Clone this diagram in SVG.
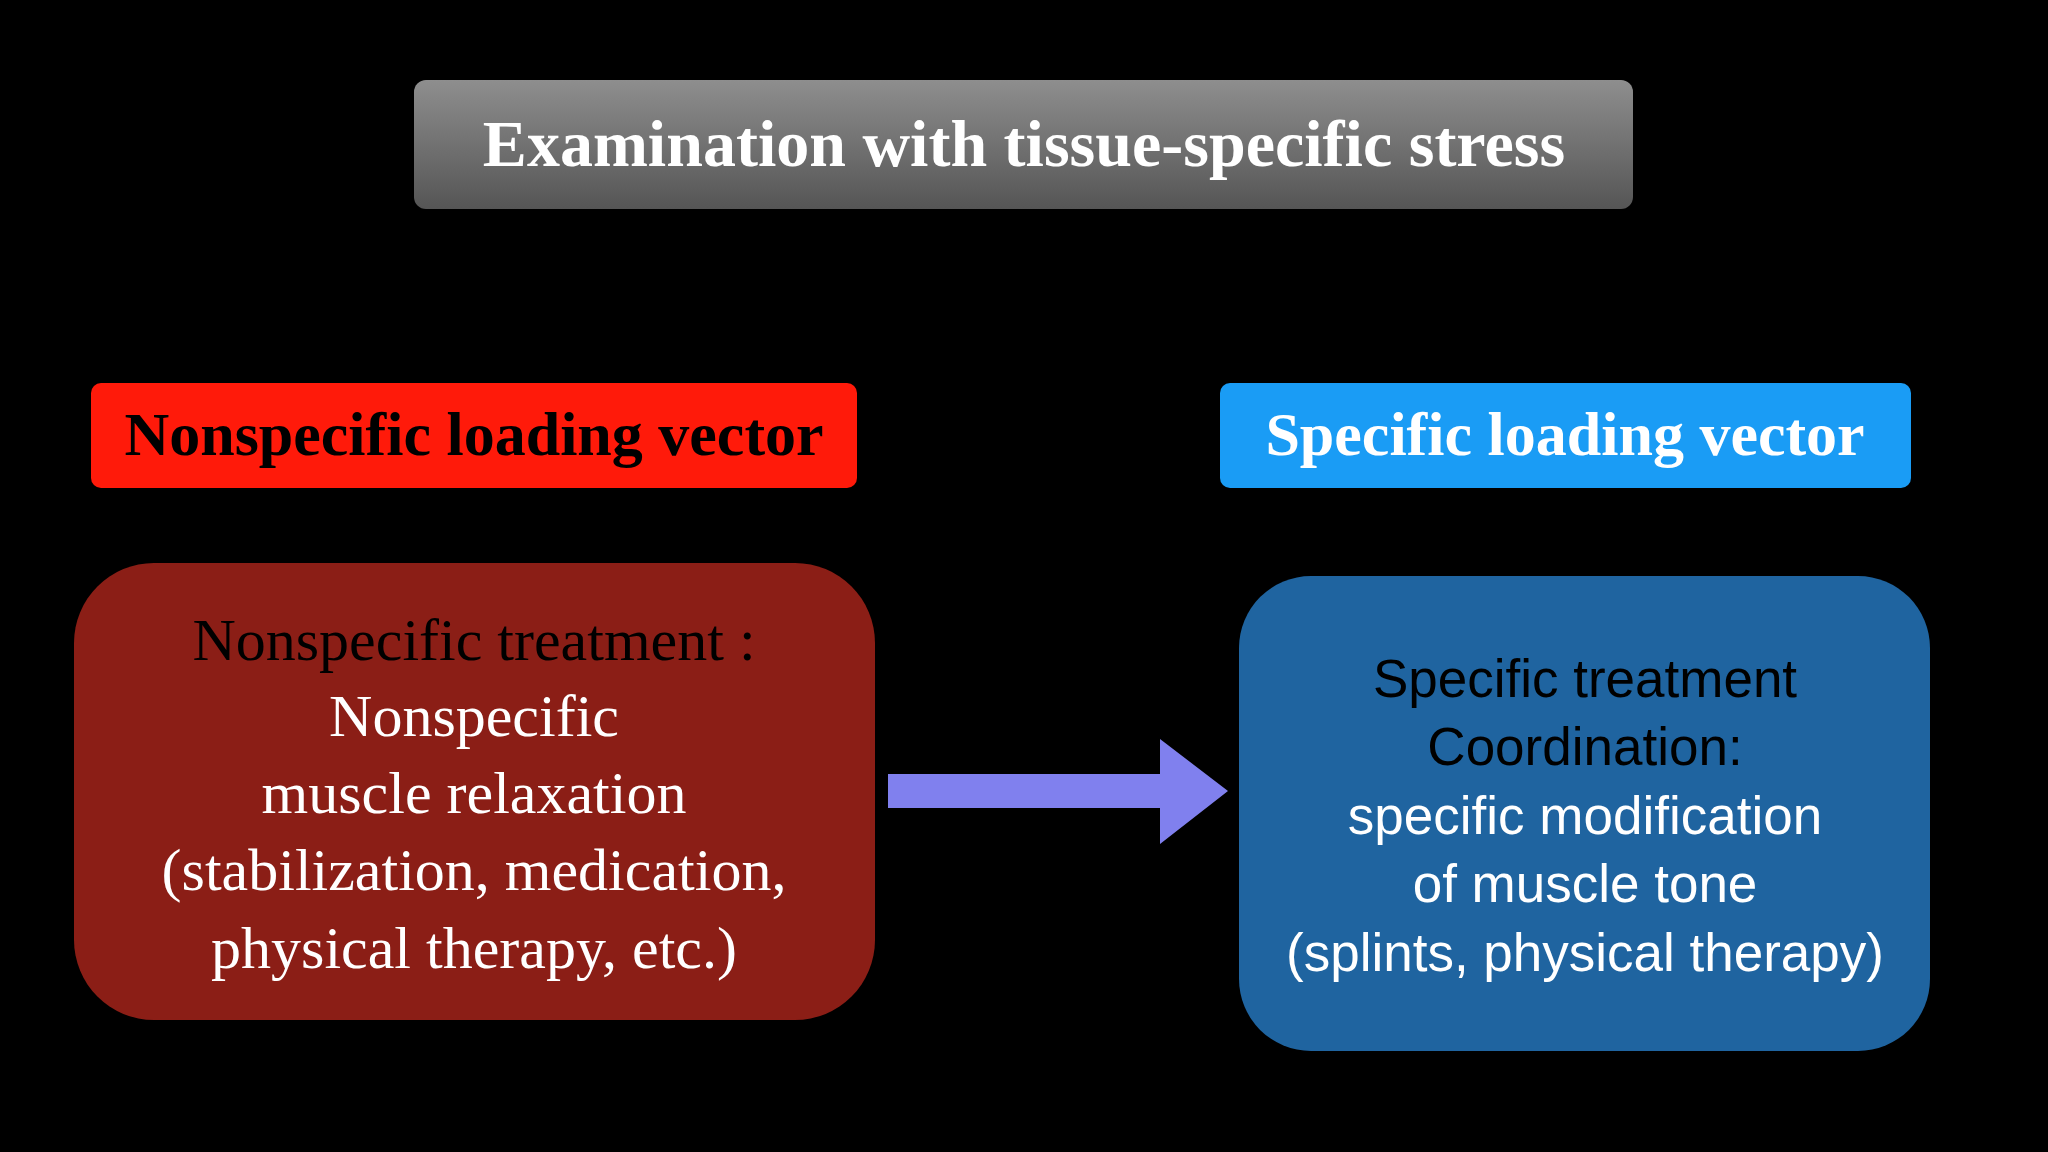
<svg xmlns="http://www.w3.org/2000/svg" width="2048" height="1152" viewBox="0 0 2048 1152">
<defs>
<linearGradient id="g" x1="0" y1="0" x2="0" y2="1"><stop offset="0" stop-color="#8e8e8e"/><stop offset="1" stop-color="#555"/></linearGradient>
<style>
.serif{font-family:"Liberation Serif","Times New Roman",serif}
.sans{font-family:"Liberation Sans",Arial,sans-serif}
.hd{font-weight:bold;font-size:62px}
.rt{font-size:60px;fill:#fff}
.bt{font-size:53px;fill:#fff}
</style>
</defs>
<rect width="2048" height="1152" fill="#000"/>
<g id="title"><rect x="414" y="80" width="1219" height="129" rx="12" fill="url(#g)"/>
<text x="1024" y="166" text-anchor="middle" class="serif" font-weight="bold" font-size="66" fill="#fff">Examination with tissue-specific stress</text></g>
<g id="nonspecific-label"><rect x="91" y="383" width="766" height="105" rx="10" fill="#ff1a0a"/>
<text x="474" y="455" text-anchor="middle" class="serif hd" fill="#000">Nonspecific loading vector</text></g>
<g id="specific-label"><rect x="1220" y="383" width="691" height="105" rx="10" fill="#1a9cf5"/>
<text x="1565" y="455" text-anchor="middle" class="serif hd" fill="#fff">Specific loading vector</text></g>
<g id="nonspecific-treatment"><rect x="74" y="563" width="801" height="457" rx="80" fill="#8b1e16"/>
<g text-anchor="middle" class="serif rt">
<text x="474" y="660" fill="#000">Nonspecific treatment :</text>
<text x="474" y="736">Nonspecific</text>
<text x="474" y="813">muscle relaxation</text>
<text x="474" y="890">(stabilization, medication,</text>
<text x="474" y="968">physical therapy, etc.)</text></g></g>
<g id="specific-treatment"><rect x="1239" y="576" width="691" height="475" rx="72" fill="#1f64a0"/>
<g text-anchor="middle" class="sans bt">
<text x="1585" y="697" fill="#000">Specific treatment</text>
<text x="1585" y="765" fill="#000">Coordination:</text>
<text x="1585" y="834">specific modification</text>
<text x="1585" y="902">of muscle tone</text>
<text x="1585" y="971">(splints, physical therapy)</text></g></g>
<g id="connectors"><polygon points="888,774 1160,774 1160,739 1228,791 1160,844 1160,808 888,808" fill="#8080ee"/></g>
</svg>
